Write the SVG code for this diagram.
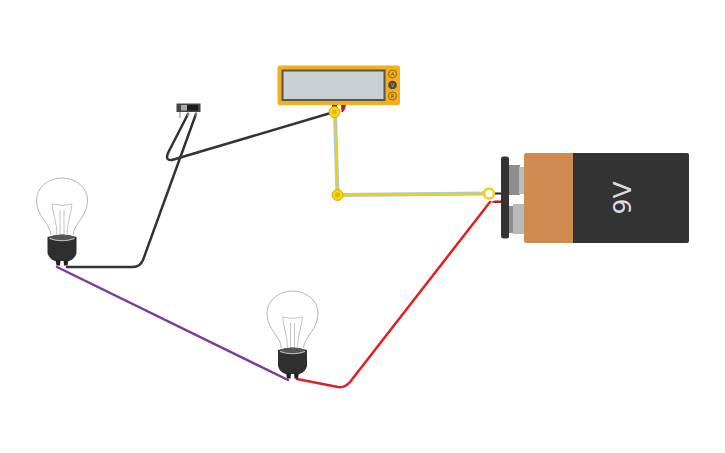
<svg xmlns="http://www.w3.org/2000/svg" width="725" height="453" viewBox="0 0 725 453">
<style>
.w{fill:none;stroke-linecap:round;stroke-linejoin:round;stroke-width:2.500}
.bulbline{fill:none;stroke:#b5b5b5;stroke-width:1}
.filament{fill:none;stroke:#c4c4c4;stroke-width:1}
.base{fill:#2f2f2f}
.ring{fill:#f5d90a;stroke:#d9a90a;stroke-width:1}
.glyph{font-family:"DejaVu Sans",sans-serif;fill:#3a3a3a;font-size:5px;text-anchor:middle}
</style>
<defs>
<g id="bulb">
<path class="bulbline" d="M-11 57C-12 45-25.500 39-25.500 22A25.500 22 0 0 1 25.500 22C25.500 39 12 45 11 57"/>
<path class="filament" d="M-5 57C-5 45-9 36-10 26Q0 29 10 26C9 36 5 45 5 57"/>
<path class="filament" d="M-2 57V32M2 57V32" stroke-width=".8"/>
<path class="base" d="M-14.500 59Q0 54 14.500 59V75Q13 81 7 83H-7Q-13 81-14.500 75Z"/>
<ellipse cx="0" cy="60" rx="13" ry="3.200" fill="#555"/>
<path d="M-12.500 60.500Q0 65 12.500 60.500" fill="none" stroke="#ddd" stroke-width=".8"/>
<path d="M-6.500 82H-1.500L-2 87.500H-5.500Z" fill="#222"/>
<path d="M1.500 82H6.500L5.500 87.500H2Z" fill="#222"/>
</g>
</defs>

<g id="connectors">
<path class="w" stroke="#333" d="M67 267H133Q140 267 143 260L196 114"/>
<path class="w" stroke="#333" d="M188 114L168 153Q165 161 172 160L334 112"/>
<path class="w" stroke="#7a3b9c" d="M57 267L288 380"/>
<path class="w" stroke="#e02020" d="M297 379L338 387Q345 388 350 382L490 202"/>
<path fill="none" stroke="#a9c9d8" stroke-width="4" d="M335 113L337.500 195L489 193.500"/>
<path fill="none" stroke="#efd20a" stroke-width="1.800" d="M335 113L337.500 195L489 193.500"/>
</g>

<g id="multimeter">
<rect x="277.500" y="65.500" width="122.500" height="39.500" rx="2.500" fill="#f6ae1b"/>
<rect x="282.500" y="70.500" width="102" height="29.500" fill="#c7d0d2" stroke="#555" stroke-width="2"/>
<circle cx="392.500" cy="74" r="4" fill="none" stroke="#8a6a15" stroke-width="1"/>
<circle cx="392.500" cy="85" r="4.300" fill="#4a4a4a"/>
<circle cx="392.500" cy="96" r="4" fill="none" stroke="#8a6a15" stroke-width="1"/>
<text class="glyph" x="392.500" y="76">A</text>
<text class="glyph" x="392.500" y="87" style="fill:#e8c060">V</text>
<text class="glyph" x="392.500" y="98">R</text>
<rect x="332" y="105" width="5" height="3" fill="#333"/>
<path d="M341 105H346L345 109L343 112H341.500Z" fill="#b52020"/>
<circle class="ring" cx="334.500" cy="112" r="5.500"/>
<circle cx="334.500" cy="112" r="2.500" fill="#dcb80a"/>
</g>

<g id="switch">
<rect x="176.500" y="103.500" width="24" height="8.500" fill="#444"/>
<rect x="186" y="105" width="12" height="5.500" fill="#1c1c1c"/>
<rect x="181" y="105" width="6" height="5.500" fill="#aaa"/>
<path d="M180 112V118M188 112V116M196 112V116" stroke="#999" stroke-width="1.200" fill="none"/>
</g>

<g id="bulb1"><use href="#bulb" x="62" y="178"/></g>
<g id="bulb2"><use href="#bulb" x="292.500" y="291"/></g>

<g id="probe-junction"><circle class="ring" cx="337.500" cy="195" r="5.500"/><circle cx="337.500" cy="195" r="2.500" fill="#dcb80a"/></g>

<g id="battery">
<rect x="507" y="165" width="13" height="30" fill="#8e8e8e"/>
<rect x="519" y="167" width="5" height="27" fill="#bcbcbc"/>
<rect x="507" y="206" width="6" height="27" fill="#8e8e8e"/>
<rect x="513" y="204" width="12" height="30" fill="#b9b9b9"/>
<rect x="501" y="156.500" width="8" height="82" rx="2.500" fill="#333"/>
<path d="M526 153H573V243H526Q524 243 524 241V155Q524 153 526 153Z" fill="#d08c50"/>
<path d="M573 153H687Q689 153 689 155V241Q689 243 687 243H573Z" fill="#333"/>
<text x="622" y="198" transform="rotate(-90 622 198)" font-family="'DejaVu Sans',sans-serif" font-size="25" fill="#dcdcdc" text-anchor="middle" dominant-baseline="central">9V</text>
<path d="M494 193.500H501" stroke="#222" stroke-width="2"/>
<path d="M490 202L495 200.500H501V203H495Z" fill="#b52020"/>
<circle cx="489" cy="193.500" r="5" fill="#fff" stroke="#efd20a" stroke-width="2.500"/>
</g>
</svg>
